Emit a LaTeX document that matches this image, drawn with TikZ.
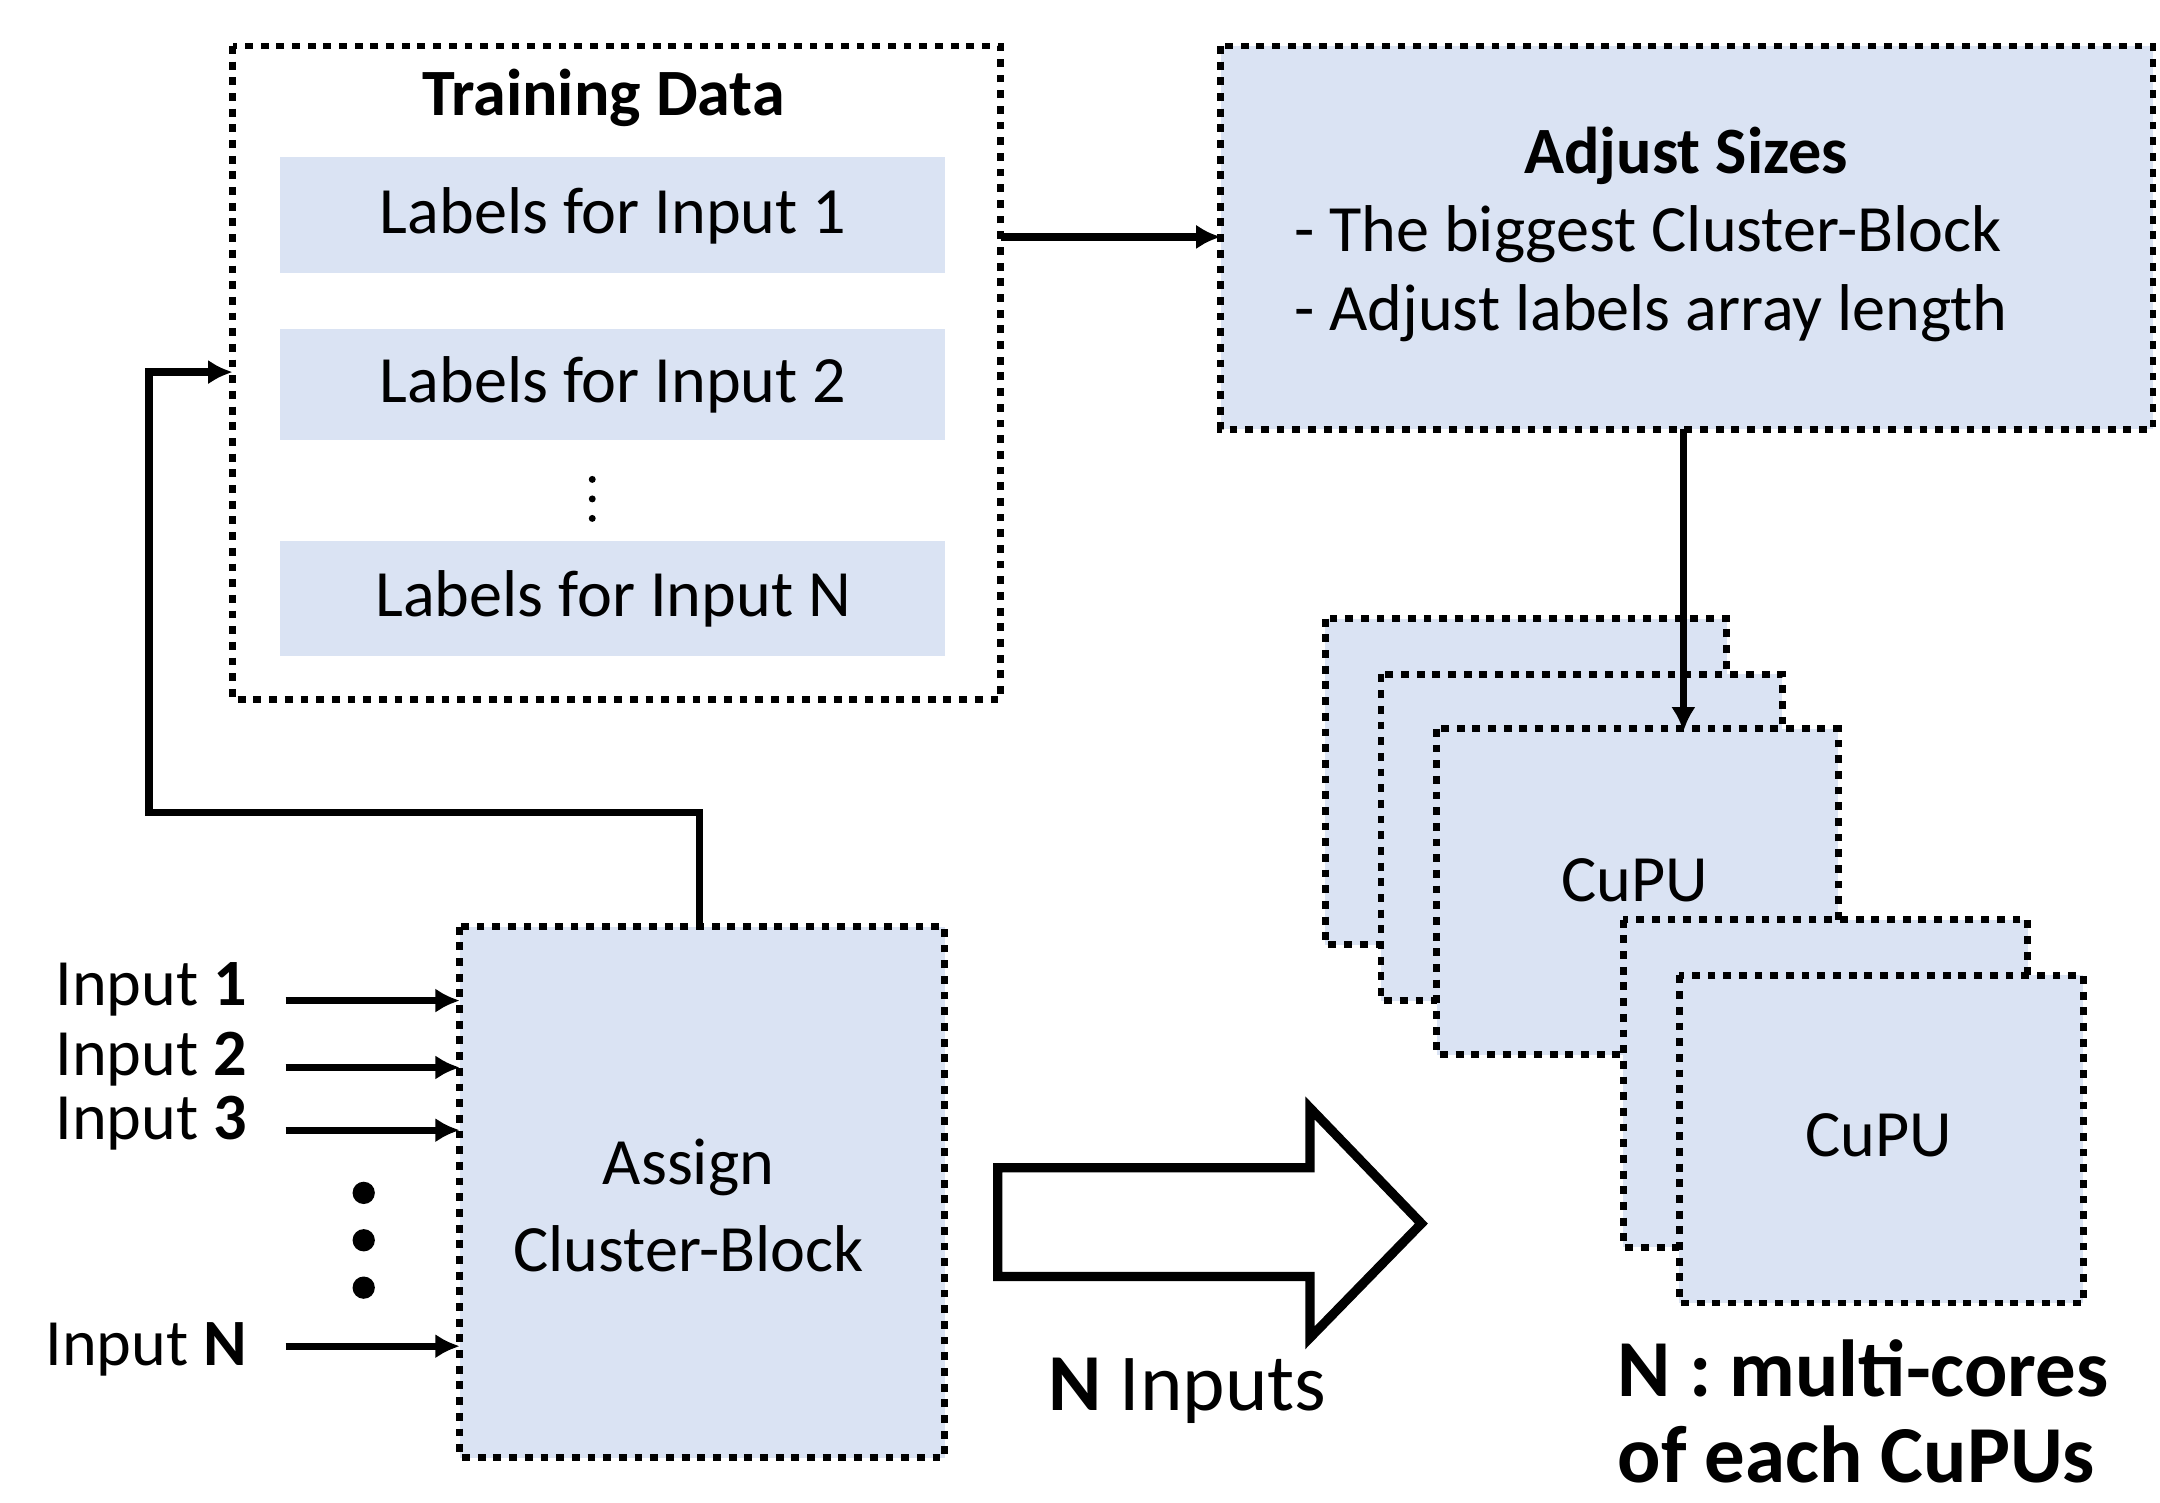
\documentclass[tikz,border=0pt]{standalone}
\usepackage{fontspec}
\setmainfont{Carlito}
\usetikzlibrary{arrows.meta}
\definecolor{lb}{RGB}{218,227,243}
\begin{document}
\begin{tikzpicture}[x=0.01cm,y=-0.01cm,
  dbox/.style={draw,line width=1.4pt,dash pattern=on 1.6pt off 1.6pt},
  arr/.style={line width=1.5pt,-{Latex[length=5pt,width=5pt]}},
  txt/.style={font=\fontsize{13.5}{16}\selectfont,inner sep=0pt}]
\useasboundingbox (0,0) rectangle (1550,1078);
% training data
\draw[dbox] (167,33) rectangle (718,502);
\node[txt,font=\fontsize{13.5}{16}\selectfont\bfseries] (td) at (433,70) {Training Data};
\fill[lb] (201,113) rectangle (678,196);
\fill[lb] (201,236) rectangle (678,316);
\fill[lb] (201,388) rectangle (678,471);
\node[txt] (l1) at (440,155) {Labels for Input 1};
\node[txt] (l2) at (440,276) {Labels for Input 2};
\node[txt] (l3) at (440,430) {Labels for Input N};
\foreach \y in {344,358,372} \fill (425,\y) circle (2.5);
\coordinate (tdr) at (718,170);
\coordinate (tdl) at (167,267);
% adjust sizes
\draw[dbox,fill=lb] (876,33) rectangle (1545,308);
\node[txt,font=\fontsize{13.5}{16}\selectfont\bfseries] (as) at (1210,112) {Adjust Sizes};
\node[txt,anchor=west] (a1) at (928,168) {- The biggest Cluster-Block};
\node[txt,anchor=west] (a2) at (928,225) {- Adjust labels array length};
\coordinate (asl) at (876,170);
\coordinate (asb) at (1208,308);
\coordinate (cut) at (1208,525);
\draw[arr] (tdr) -- (asl);
% CuPU stacks
\draw[dbox,fill=lb] (951,444) rectangle (1239,678);
\draw[dbox,fill=lb] (991,484) rectangle (1279,718);
\draw[dbox,fill=lb] (1031,523) rectangle (1319,757);
\node[txt] (c1) at (1173,632) {CuPU};
\draw[dbox,fill=lb] (1165,660) rectangle (1455,895);
\draw[dbox,fill=lb] (1205,700) rectangle (1495,935);
\node[txt] (c2) at (1348,815) {CuPU};
\draw[arr] (asb) -- (cut);
% assign
\draw[dbox,fill=lb] (330,665) rectangle (678,1046);
\node[txt] (ab1) at (494,838) {Assign};
\node[txt] (ab2) at (494,896) {Cluster-Block};
\coordinate (abt) at (502,665);
\draw[arr] (abt) -- (502,583) -- (107,583) -- (107,267) -- (tdl);
% inputs
\foreach \n/\t/\y/\ay in {1/1/710/718,2/2/760/766,3/3/806/811,4/N/968/966}{
  \node[txt,anchor=east] (i\n) at (178,\y) {Input \textbf{\t}};
  \coordinate (s\n) at (205,\ay);
  \coordinate (e\n) at (330,\ay);
  \draw[arr] (s\n) -- (e\n);
}
\foreach \y in {856,890,924} \fill (261,\y) circle (8);
% big arrow
\draw[line width=1.9pt,fill=white] (716,838) -- (940,838) -- (940,795) -- (1020,878) -- (940,960) -- (940,916) -- (716,916) -- cycle;
\node[txt,font=\fontsize{16.5}{20}\selectfont] (ni) at (852,998) {\textbf{N} Inputs};
\node[txt,anchor=west,font=\fontsize{16.5}{20}\selectfont\bfseries] (mc1) at (1160,982) {N : multi-cores};
\node[txt,anchor=west,font=\fontsize{16.5}{20}\selectfont\bfseries] (mc2) at (1160,1044) {of each CuPUs};
\end{tikzpicture}
\end{document}
